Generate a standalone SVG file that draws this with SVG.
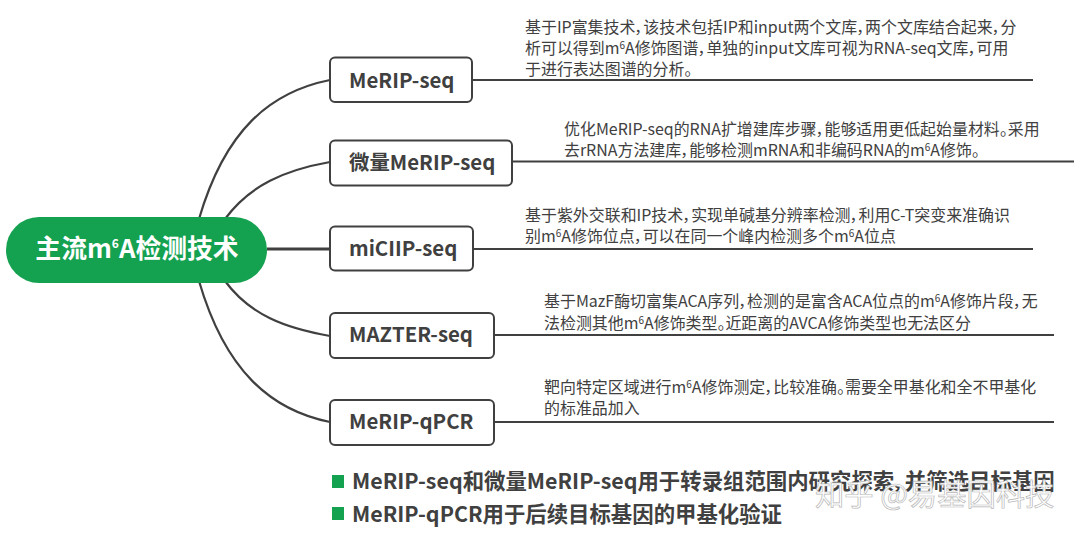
<svg xmlns="http://www.w3.org/2000/svg" width="1080" height="538" viewBox="0 0 1080 538">
<style>
text{font-family:"Noto Sans CJK SC","Noto Sans",sans-serif;font-feature-settings:"palt";fill:#404040}
.c{fill:none;stroke:#404040;stroke-width:2.2}
.n{fill:#fff;stroke:#404040;stroke-width:2}
.l{font-size:20.400px;font-weight:700}
.d{font-size:15.950px}
.b{font-size:21.400px;font-weight:700}
.s{font-size:10px}
.g{fill:#14a150}
</style>
<rect width="1080" height="538" fill="#fff"/>
<g id="connectors">
<path class="c" d="M199 219C225 130 270 92 330 80"/>
<path class="c" d="M225 219C250 185 285 170 330 162"/>
<path class="c" d="M267 249H330" style="stroke-width:3"/>
<path class="c" d="M199 281C225 370 270 410 330 422"/>
<path class="c" d="M225 281C250 315 285 328 330 336"/>
<path class="c" d="M472 80H1033"/>
<path class="c" d="M512 161.500H1074"/>
<path class="c" d="M473 249H1033"/>
<path class="c" d="M494 335H1054"/>
<path class="c" d="M494 422H1054"/>
</g>
<g id="root"><rect class="g" x="6" y="217" width="261" height="66" rx="33"/>
<text x="137" y="258" text-anchor="middle" font-size="25.800" font-weight="700" style="fill:#fff">主流m<tspan font-size="12" dy="-10">6</tspan><tspan dy="10">A检测技术</tspan></text></g>
<g id="n1"><rect class="n" x="330" y="57.500" width="142" height="44.500" rx="5"/><text class="l" x="349" y="88">MeRIP-seq</text></g>
<g id="n2"><rect class="n" x="330" y="140.500" width="182" height="45" rx="5"/><text class="l" x="349" y="170">微量MeRIP-seq</text></g>
<g id="n3"><rect class="n" x="330" y="226.500" width="143" height="44" rx="5"/><text class="l" x="349" y="256">miCIIP-seq</text></g>
<g id="n4"><rect class="n" x="330" y="313" width="164" height="45" rx="5"/><text class="l" x="349" y="342">MAZTER-seq</text></g>
<g id="n5"><rect class="n" x="330" y="400" width="164" height="45" rx="5"/><text class="l" x="349" y="429">MeRIP-qPCR</text></g>
<g id="d1"><text class="d" x="525" y="33">基于IP富集技术，该技术包括IP和input两个文库，两个文库结合起来，分</text>
<text class="d" x="525" y="54">析可以得到m<tspan class="s" dy="-5.500">6</tspan><tspan dy="5.500">A修饰图谱，单独的input文库可视为RNA-seq文库，可用</tspan></text>
<text class="d" x="525" y="75">于进行表达图谱的分析。</text></g>
<g id="d2"><text class="d" x="564" y="135">优化MeRIP-seq的RNA扩增建库步骤，能够适用更低起始量材料。采用</text>
<text class="d" x="564" y="156">去rRNA方法建库，能够检测mRNA和非编码RNA的m<tspan class="s" dy="-5.500">6</tspan><tspan dy="5.500">A修饰。</tspan></text></g>
<g id="d3"><text class="d" x="525" y="221">基于紫外交联和IP技术，实现单碱基分辨率检测，利用C-T突变来准确识</text>
<text class="d" x="525" y="242">别m<tspan class="s" dy="-5.500">6</tspan><tspan dy="5.500">A修饰位点，可以在同一个峰内检测多个m</tspan><tspan class="s" dy="-5.500">6</tspan><tspan dy="5.500">A位点</tspan></text></g>
<g id="d4"><text class="d" x="544" y="307">基于MazF酶切富集ACA序列，检测的是富含ACA位点的m<tspan class="s" dy="-5.500">6</tspan><tspan dy="5.500">A修饰片段，无</tspan></text>
<text class="d" x="544" y="329">法检测其他m<tspan class="s" dy="-5.500">6</tspan><tspan dy="5.500">A修饰类型。近距离的AVCA修饰类型也无法区分</tspan></text></g>
<g id="d5"><text class="d" x="544" y="393">靶向特定区域进行m<tspan class="s" dy="-5.500">6</tspan><tspan dy="5.500">A修饰测定，比较准确。需要全甲基化和全不甲基化</tspan></text>
<text class="d" x="544" y="414">的标准品加入</text></g>
<g id="notes">
<rect class="g" x="332" y="475" width="12" height="13"/>
<text class="b" x="352" y="489">MeRIP-seq和微量MeRIP-seq用于转录组范围内研究探索，并筛选目标基因</text>
<rect class="g" x="332" y="507" width="12" height="13"/>
<text class="b" x="352" y="522">MeRIP-qPCR用于后续目标基因的甲基化验证</text>
</g>
<text id="watermark" x="815" y="505" font-size="29.300" style="fill:#fff;stroke:#b8b8b8;stroke-width:.7">知乎 @易基因科技</text>
</svg>
